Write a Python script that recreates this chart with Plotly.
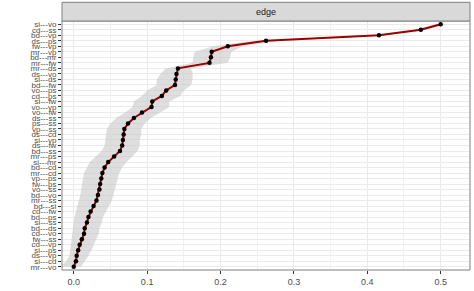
import plotly.graph_objects as go

pairs = ["si---vo", "cd---ss", "bd---vp", "ds---ps", "fw---vp", "mr---vp", "bd---mr", "mr---fw",
         "mr---ds", "ds---vo", "si---ds", "bd---fw", "vo---ps", "cd---ps", "si---fw", "vo---vp",
         "vo---fw", "ds---ss", "ps---ss", "vp---ss", "ds---cd", "si---vp", "ds---fw", "bd---ss",
         "mr---ps", "si---mr", "bd---cd", "mr---cd", "vp---ps", "fw---ps", "vo---ss", "bd---vo",
         "mr---ss", "bd---si", "cd---fw", "bd---ps", "si---ss", "bd---ds", "cd---vo", "fw---ss",
         "cd---vp", "si---ps", "ds---vp", "si---cd", "mr---vo"]

edge = [0.500, 0.473, 0.416, 0.262, 0.210, 0.188, 0.187, 0.185,
        0.142, 0.140, 0.139, 0.138, 0.126, 0.120, 0.107, 0.106,
        0.093, 0.082, 0.074, 0.069, 0.068, 0.067, 0.066, 0.063,
        0.055, 0.047, 0.042, 0.039, 0.0375, 0.036, 0.035, 0.033,
        0.031, 0.027, 0.023, 0.020, 0.018, 0.015, 0.014, 0.011,
        0.008, 0.006, 0.004, 0.003, 0.000]

lower = [0.492, 0.465, 0.405, 0.245, 0.190, 0.165, 0.163, 0.162,
         0.125, 0.118, 0.113, 0.113, 0.100, 0.093, 0.082, 0.080,
         0.070, 0.058, 0.050, 0.045, 0.044, 0.043, 0.042, 0.038,
         0.030, 0.022, 0.018, 0.014, 0.012, 0.011, 0.010, 0.009,
         0.008, 0.005, 0.003, 0.001, 0.000, -0.002, -0.002, -0.003,
         -0.004, -0.005, -0.006, -0.010, -0.018]

upper = [0.510, 0.480, 0.425, 0.280, 0.230, 0.215, 0.213, 0.210,
         0.160, 0.162, 0.162, 0.160, 0.150, 0.145, 0.130, 0.130,
         0.118, 0.105, 0.097, 0.092, 0.092, 0.090, 0.090, 0.087,
         0.080, 0.072, 0.066, 0.062, 0.060, 0.058, 0.057, 0.055,
         0.052, 0.048, 0.044, 0.040, 0.038, 0.035, 0.034, 0.031,
         0.028, 0.024, 0.020, 0.015, 0.010]

x_ticks = [0.0, 0.1, 0.2, 0.3, 0.4, 0.5]
x_labels = ["0.0", "0.1", "0.2", "0.3", "0.4", "0.5"]
strip_label = "edge"

fig = go.Figure()
fig.add_trace(go.Scatter(
    x=upper + lower[::-1], y=pairs + pairs[::-1], fill="toself",
    fillcolor="rgba(200,200,200,0.6)", line=dict(width=0), mode="lines",
    hoverinfo="skip", showlegend=False))
fig.add_trace(go.Scatter(
    x=edge, y=pairs, mode="lines", line=dict(color="#9B0000", width=2),
    showlegend=False))
fig.add_trace(go.Scatter(
    x=edge, y=pairs, mode="markers", marker=dict(color="black", size=4.5),
    showlegend=False))

fig.update_layout(
    width=474, height=291,
    margin=dict(l=62, r=4, t=21, b=17),
    paper_bgcolor="white", plot_bgcolor="white",
    font=dict(family="Liberation Sans, Arial, sans-serif", color="#4D4D4D"),
    showlegend=False,
)
fig.update_xaxes(
    range=[-0.016, 0.54], tickvals=x_ticks, ticktext=x_labels,
    showgrid=True, gridcolor="#EBEBEB", gridwidth=1,
    minor=dict(dtick=0.05, tick0=0, showgrid=True, gridcolor="#F2F2F2", gridwidth=0.6),
    zeroline=False, ticks="outside", ticklen=3, tickcolor="#333333",
    tickfont=dict(size=9, color="#4D4D4D"), showline=False,
)
fig.update_yaxes(
    type="category", categoryorder="array", categoryarray=pairs[::-1],
    tickmode="array", tickvals=pairs, ticktext=pairs,
    range=[-0.6, 44.6], showgrid=True, gridcolor="#EBEBEB", gridwidth=1,
    zeroline=False, ticks="outside", ticklen=3, tickcolor="#333333",
    tickfont=dict(size=8, color="#4D4D4D"), showline=False,
)
# panel border
fig.add_shape(type="rect", xref="paper", yref="paper", x0=0, x1=1, y0=0, y1=1,
              line=dict(color="#7F7F7F", width=1), fillcolor="rgba(0,0,0,0)", layer="above")
# strip
fig.add_shape(type="rect", xref="paper", yref="paper", x0=0, x1=1, y0=1.0, y1=1.0 + 19 / 253,
              line=dict(color="#7F7F7F", width=1), fillcolor="#D9D9D9", layer="above")
fig.add_annotation(text=strip_label, xref="paper", yref="paper", x=0.5, y=1.0 + 9.5 / 253,
                   showarrow=False, font=dict(size=9, color="#1A1A1A"), yanchor="middle")

fig.write_html("out.html")
